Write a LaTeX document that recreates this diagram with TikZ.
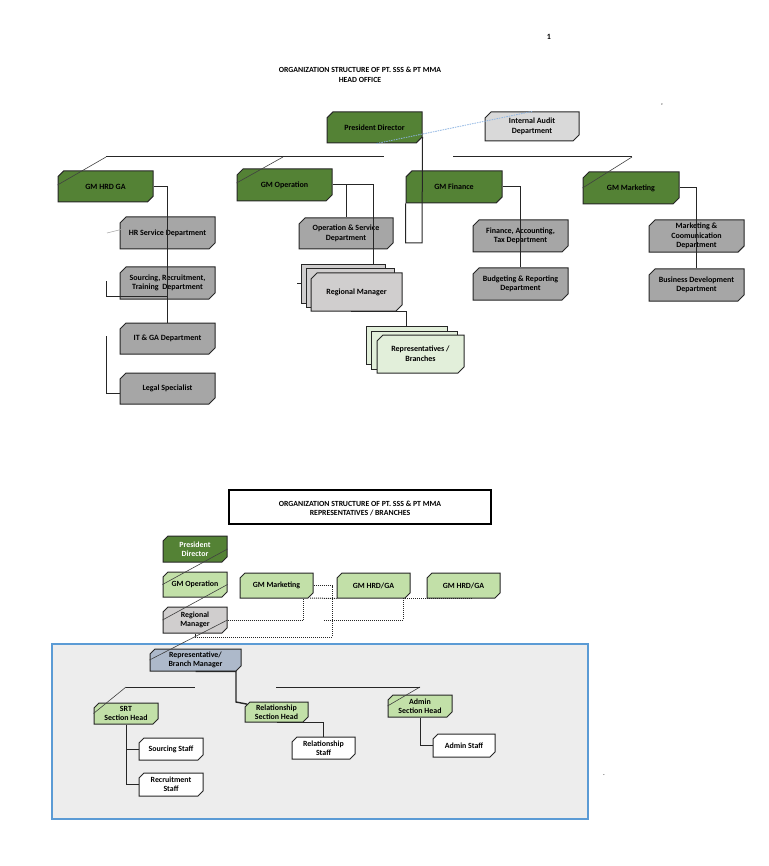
\documentclass[tikz,border=0pt]{standalone}
\usepackage{fontspec}
\setmainfont{Carlito}
\usetikzlibrary{shapes.misc,calc}
\definecolor{dkgreen}{HTML}{548235}
\definecolor{midgray}{HTML}{A6A6A6}
\definecolor{ltgray}{HTML}{D9D9D9}
\definecolor{rmgray}{HTML}{D0CECE}
\definecolor{repgreen}{HTML}{E2EFDA}
\definecolor{bgreen}{HTML}{C2E0A8}
\definecolor{bluegray}{HTML}{ADB9CA}
\definecolor{panelfill}{HTML}{EDEDED}
\definecolor{panelline}{HTML}{5B9BD5}
\definecolor{dotblue}{HTML}{8DB4E2}
\tikzset{
  box/.style={chamfered rectangle, chamfered rectangle corners={north west,south east},
    chamfered rectangle xsep=3pt, chamfered rectangle ysep=3pt,
    draw=black!85, line width=1pt, inner sep=0pt, align=center,
    font=\fontsize{8}{9.6}\selectfont\bfseries},
  sbox/.style={box, chamfered rectangle xsep=2.5pt, chamfered rectangle ysep=2.5pt,
    font=\fontsize{7.9}{9}\selectfont\bfseries},
  conn/.style={draw=black!85, line width=1pt},
  thinln/.style={draw=black!75, line width=0.6pt},
  dots/.style={draw=black!85, line width=1pt, dash pattern=on 1pt off 1pt},
  ttl/.style={align=center, font=\fontsize{7.8}{10}\selectfont\bfseries},
}
\begin{document}
\begin{tikzpicture}[x=1pt,y=-1pt]
\useasboundingbox (0,0) rectangle (768,866);
% ---------- top part ----------
\node[font=\fontsize{8}{9}\selectfont\bfseries] (pagenum) at (549,37) {1};
\node[ttl] (title1) at (360,75) {ORGANIZATION STRUCTURE OF PT. SSS \& PT MMA\\HEAD OFFICE};
\node[font=\fontsize{7}{8}\selectfont] (tick1) at (662,106) {`};

\node[box, fill=dkgreen, minimum width=95pt, minimum height=31pt] (pd) at (374.5,127.5) {President Director};
\node[box, fill=ltgray, minimum width=94pt, minimum height=29pt] (ia) at (532,126.5) {Internal Audit\\Department};

\node[box, fill=dkgreen, minimum width=95pt, minimum height=31pt] (gmhr) at (105.5,186.5) {GM HRD GA};
\node[box, fill=dkgreen, minimum width=95pt, minimum height=32pt] (gmop) at (284.5,185) {GM Operation};
\node[box, fill=dkgreen, minimum width=96pt, minimum height=32pt] (gmfin) at (454,187) {GM Finance};
\node[box, fill=dkgreen, minimum width=96pt, minimum height=32pt] (gmmkt) at (631,188) {GM Marketing};

\node[box, fill=midgray, minimum width=95pt, minimum height=32pt] (hrs) at (167.5,233) {HR Service Department};
\node[box, fill=midgray, minimum width=95pt, minimum height=32pt] (src) at (167.5,283) {Sourcing, Recruitment,\\Training~ Department};
\node[box, fill=midgray, minimum width=95pt, minimum height=31pt] (itga) at (167.5,338.5) {IT \& GA Department};
\node[box, fill=midgray, minimum width=95pt, minimum height=31pt] (legal) at (167.5,388.5) {Legal Specialist};

\node[box, fill=midgray, minimum width=94pt, minimum height=31pt] (ops) at (346,233.5) {Operation \& Service\\Department};
\node[box, fill=rmgray, minimum width=84pt, minimum height=38pt] (rmb) at (343,284) {};
\node[box, fill=rmgray, minimum width=88pt, minimum height=38pt] (rmm) at (350,288) {};
\node[box, fill=rmgray, minimum width=91pt, minimum height=38pt] (rmf) at (356.5,292) {Regional Manager};

\node[box, fill=repgreen, minimum width=81pt, minimum height=38pt] (repb) at (406.5,345) {};
\node[box, fill=repgreen, minimum width=86pt, minimum height=38pt] (repm) at (414,350) {};
\node[box, fill=repgreen, minimum width=87pt, minimum height=38pt] (repf) at (420.5,354) {Representatives /\\Branches};

\node[box, fill=midgray, minimum width=95pt, minimum height=32pt] (fin1) at (520.5,236) {Finance, Accounting,\\Tax Department};
\node[box, fill=midgray, minimum width=95pt, minimum height=32pt] (fin2) at (520.5,284) {Budgeting \& Reporting\\Department};
\node[box, fill=midgray, minimum width=95pt, minimum height=32pt] (mk1) at (696.5,236) {Marketing \&\\Coomunication\\Department};
\node[box, fill=midgray, minimum width=95pt, minimum height=32pt] (mk2) at (696.5,285) {Business Development\\Department};

% free coordinates of the top part
\coordinate (hl1a) at (106,157);
\coordinate (hl1b) at (384,157);
\coordinate (hl1c) at (283,157);
\coordinate (hl2a) at (453,157);
\coordinate (hl2b) at (632,157);
\coordinate (pdturn) at (422,243);
\coordinate (opstop) at (373,265);
\coordinate (srcA) at (106,281);
\coordinate (srcB) at (106,296);
\coordinate (srcC) at (167,296);
\coordinate (legA) at (106,336);
\coordinate (hrsA) at (107,233);
\coordinate (hrsB) at (167,218);
\coordinate (stubA) at (297,283);
\coordinate (stubB) at (301,283);

% connectors top
\draw[dotblue, line width=0.8pt, dash pattern=on 1.5pt off 1pt] (pd.south) ++(2,0) -- (ia.north);
\draw[conn] (pd.east |- 0,137) -- (pdturn) -| (gmfin.south west);
\draw[conn] (hl1a) -- (hl1b);
\draw[conn] (hl2a) -- (hl2b);
\draw[thinln] (gmhr.west) ++(0,-1.5) -- (hl1a);
\draw[thinln] (gmop.west) ++(0,-2) -- (hl1c);
\draw[thinln] (gmmkt.west) -- (hl2b);
\draw[conn] (gmhr.east) -| (itga.north);
\draw[conn] (srcA) -- (srcB) -- (srcC);
\draw[conn] (legA) |- (legal.west |- 0,393);
\draw[gray!70, line width=0.6pt] (hrsA) -- (hrsB);
\draw[conn] (gmop.east) -| (opstop);
\draw[conn] (ops.north |- gmop.east) -- (ops.north);
\draw[conn] (stubA) -- (stubB);
\draw[conn] (rmf.south) ++(-6,0) -| (repb.north);
\draw[conn] (gmfin.east) -| (fin2.north);
\draw[conn] (gmmkt.east) -| (mk2.north);

% ---------- bottom part ----------
\node[draw=black, line width=1.6pt, minimum width=262pt, minimum height=34pt, inner sep=0pt] (title2box) at (360,507) {};
\node[ttl, font=\fontsize{7.8}{9}\selectfont\bfseries] (title2) at (360,508) {ORGANIZATION STRUCTURE OF PT. SSS \& PT MMA\\REPRESENTATIVES / BRANCHES};

\node[draw=panelline, fill=panelfill, line width=1.2pt, minimum width=536pt, minimum height=175pt, inner sep=0pt] (panel) at (320,731.5) {};

\node[sbox, fill=dkgreen, text=white, minimum width=64pt, minimum height=26pt] (bpd) at (195,549) {President\\Director};
\node[sbox, fill=bgreen, minimum width=64pt, minimum height=25pt] (bgmop) at (195,584.5) {GM Operation};
\node[sbox, fill=rmgray, minimum width=64pt, minimum height=26pt] (brm) at (195,620) {Regional\\Manager};
\node[sbox, fill=bgreen, minimum width=73pt, minimum height=25pt] (bgmm) at (276.5,585.5) {GM Marketing};
\node[sbox, fill=bgreen, minimum width=73pt, minimum height=25pt] (bhr1) at (373.5,585.5) {GM HRD/GA};
\node[sbox, fill=bgreen, minimum width=73pt, minimum height=25pt] (bhr2) at (463.5,585.5) {GM HRD/GA};

\node[sbox, fill=bluegray, minimum width=91pt, minimum height=22pt] (rbm) at (195.5,660) {Representative/\\Branch Manager};
\node[sbox, fill=bgreen, minimum width=64pt, minimum height=21pt] (srt) at (126,713.5) {SRT\\Section Head};
\node[sbox, fill=bgreen, minimum width=63pt, minimum height=20pt] (rsh) at (276.5,712) {Relationship\\Section Head};
\node[sbox, fill=bgreen, minimum width=64pt, minimum height=22pt] (ash) at (420,706) {Admin\\Section Head};
\node[sbox, fill=white, minimum width=64pt, minimum height=22pt] (ss) at (171,749) {Sourcing Staff};
\node[sbox, fill=white, minimum width=64pt, minimum height=23pt] (rs) at (171,784.5) {Recruitment\\Staff};
\node[sbox, fill=white, minimum width=63pt, minimum height=22pt] (rls) at (323.5,748) {Relationship\\Staff};
\node[sbox, fill=white, minimum width=62pt, minimum height=23pt] (as) at (464,745.5) {Admin Staff};
\node[font=\fontsize{7}{8}\selectfont] (dot1) at (604,775) {.};

% free coordinates bottom
\coordinate (bl1a) at (126,687);
\coordinate (bl1b) at (195,687);
\coordinate (bl2a) at (420,687);
\coordinate (bl2b) at (276,687);
\coordinate (rbmturn) at (236,702);
\coordinate (dA) at (303,598);
\coordinate (dB) at (332,637);
\coordinate (dC) at (403,598);
\coordinate (dD) at (323,620);
\coordinate (dE) at (473,598);
\coordinate (dF) at (310,598);

% connectors bottom
\draw[thinln] (bpd.east) -- (bgmop.west);
\draw[thinln] (bgmop.east) -- (brm.west);
\draw[thinln] (brm.east) -- (rbm.west);
\draw[thinln] (srt.west) -- (bl1a);
\draw[conn] (bl1a) -- (bl1b);
\draw[thinln] (ash.west) -- (bl2a);
\draw[conn] (bl2a) -- (bl2b);
\draw[conn, line width=1.4pt] (rbm.south) -| (rbmturn) -- (rsh.north west);
\draw[conn, line width=1.2pt] (rsh.south) -| (rls.north);
\draw[conn] (srt.south) |- (ss.west);
\draw[conn] (srt.south) |- (rs.west);
\draw[conn] (ash.south) |- (as.west);

\draw[dots] (brm.east) -| (dA);
\draw[dots] (bgmm.east) -| (dB) -| (brm.south);
\draw[dots] (dF) -- (bhr1.south west);
\draw[dots] (dC) |- (dD);
\draw[dots] (dC) -- (dE);
\end{tikzpicture}
\end{document}
